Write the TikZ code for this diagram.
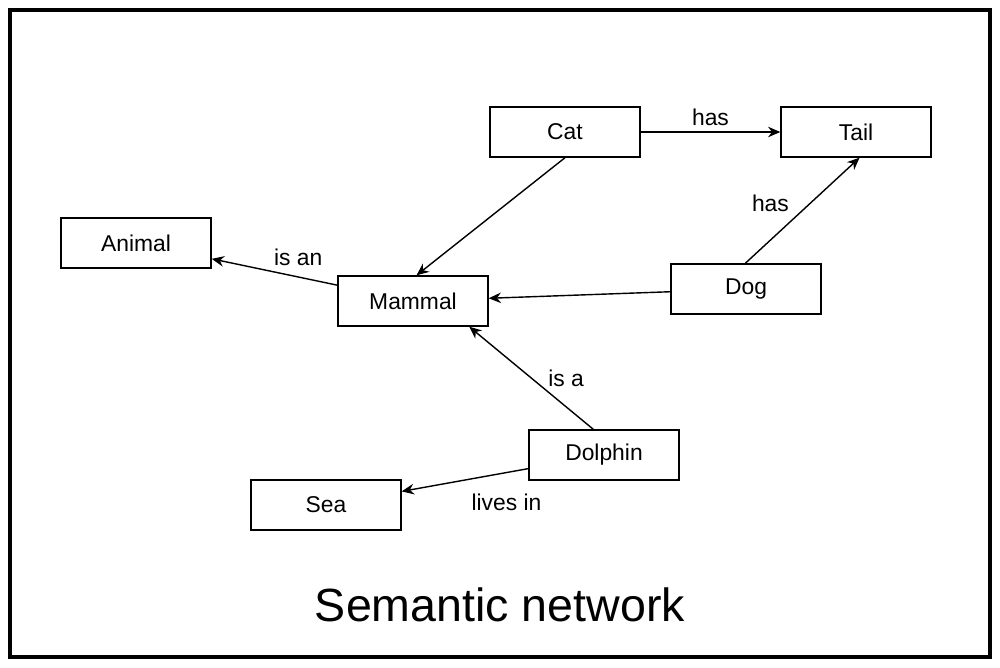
\documentclass[tikz,border=0pt]{standalone}
\usepackage{fontspec}
\setmainfont{Liberation Sans}
\usetikzlibrary{arrows.meta}
\begin{document}
\begin{tikzpicture}[x=0.02cm,y=-0.02cm,>={Stealth[length=7pt,width=6pt]},font=\fontsize{13}{15}\selectfont,
  concept/.style={draw,thick,minimum width=3cm,minimum height=1cm,inner sep=0pt},
  link/.style={->,thick}]
  \useasboundingbox (0,0) rectangle (1000,667);
  \draw[line width=2.5pt] (10,10) rectangle (990,657);

  \node[concept] (cat) at (565,132) {Cat};
  \node[concept] (tail) at (856,132) {Tail};
  \node[concept] (animal) at (136,243) {Animal};
  \node[concept] (mammal) at (413,301) {Mammal};
  \node[concept] (dog) at (746,289) {Dog};
  \node[concept] (dolphin) at (604,455) {Dolphin};
  \node[concept] (sea) at (326,505) {Sea};

  \draw[link] (cat) -- node[above]{has} (tail);
  \draw[link] (cat.south) -- ([xshift=2]mammal.north);
  \draw[link] (mammal) -- node[above right,xshift=-4]{is an} (animal);
  \draw[link] (dog) -- (mammal);
  \draw[link] (dog.north west) ++(75,0) -- node[left,xshift=-4,yshift=4]{has} ([xshift=2]tail.south);
  \draw[link] (dolphin.north west) ++(65,0) -- node[right,xshift=6]{is a} ([xshift=32]mammal.south);
  \draw[link] (dolphin) -- node[below right,yshift=-4]{lives in} (sea);

  \node[font=\fontsize{26.5}{30}\selectfont] (title) at (500,605) {Semantic network};
\end{tikzpicture}
\end{document}
